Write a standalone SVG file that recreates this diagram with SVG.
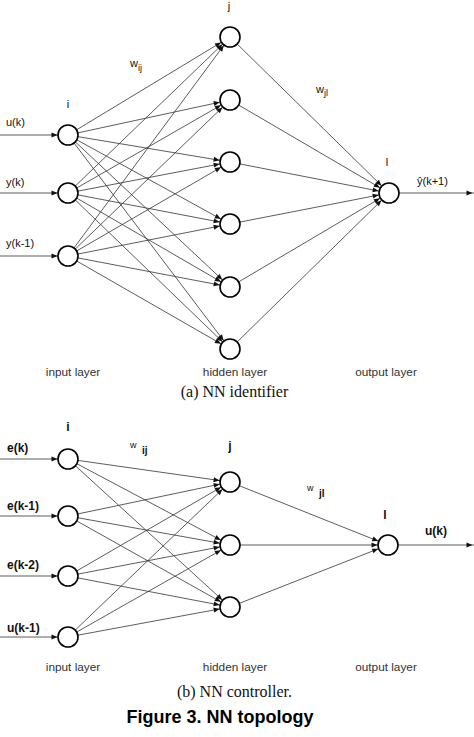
<svg xmlns="http://www.w3.org/2000/svg" width="474" height="737" viewBox="0 0 474 737">
<style>
.c{fill:#fff;stroke:#000;stroke-width:1.6}
.e{stroke:#333;stroke-width:0.8;fill:none;marker-end:url(#ah)}
.t{font-family:"Liberation Sans",Arial,sans-serif;font-size:11px;fill:#111}
.b{font-family:"Liberation Sans",Arial,sans-serif;font-size:12px;font-weight:bold;fill:#111}
.s{font-family:"Liberation Sans",Arial,sans-serif;font-size:9px;fill:#111}
.sb{font-family:"Liberation Sans",Arial,sans-serif;font-size:10px;font-weight:bold;fill:#111}
.l{font-family:"Liberation Sans",Arial,sans-serif;font-size:11.8px;fill:#333}
.cap{font-family:"Liberation Serif","Times New Roman",serif;font-size:16px;fill:#111;text-anchor:middle}
.fig{font-family:"Liberation Sans",Arial,sans-serif;font-size:18px;font-weight:bold;fill:#000;text-anchor:middle}
</style>
<defs>
<marker id="ah" markerUnits="userSpaceOnUse" markerWidth="20" markerHeight="10" viewBox="0 0 20 10" refX="20" refY="5" orient="auto">
<path d="M3.5,2.5 L9.5,5 L3.5,7.5 z" fill="#111"/>
</marker>
</defs>
<g id="connectors">
<line class="e" x1="0" y1="135" x2="68" y2="135"/>
<line class="e" x1="0" y1="193" x2="68" y2="193"/>
<line class="e" x1="0" y1="256" x2="68" y2="256"/>
<line class="e" x1="68" y1="135" x2="230" y2="37"/>
<line class="e" x1="68" y1="135" x2="230" y2="100"/>
<line class="e" x1="68" y1="135" x2="230" y2="162"/>
<line class="e" x1="68" y1="135" x2="230" y2="224"/>
<line class="e" x1="68" y1="135" x2="230" y2="287"/>
<line class="e" x1="68" y1="135" x2="230" y2="349"/>
<line class="e" x1="68" y1="193" x2="230" y2="37"/>
<line class="e" x1="68" y1="193" x2="230" y2="100"/>
<line class="e" x1="68" y1="193" x2="230" y2="162"/>
<line class="e" x1="68" y1="193" x2="230" y2="224"/>
<line class="e" x1="68" y1="193" x2="230" y2="287"/>
<line class="e" x1="68" y1="193" x2="230" y2="349"/>
<line class="e" x1="68" y1="256" x2="230" y2="37"/>
<line class="e" x1="68" y1="256" x2="230" y2="100"/>
<line class="e" x1="68" y1="256" x2="230" y2="162"/>
<line class="e" x1="68" y1="256" x2="230" y2="224"/>
<line class="e" x1="68" y1="256" x2="230" y2="287"/>
<line class="e" x1="68" y1="256" x2="230" y2="349"/>
<line class="e" x1="230" y1="37" x2="389" y2="193"/>
<line class="e" x1="230" y1="100" x2="389" y2="193"/>
<line class="e" x1="230" y1="162" x2="389" y2="193"/>
<line class="e" x1="230" y1="224" x2="389" y2="193"/>
<line class="e" x1="230" y1="287" x2="389" y2="193"/>
<line class="e" x1="230" y1="349" x2="389" y2="193"/>
<line class="e" x1="389" y1="193" x2="483" y2="193"/>
<line class="e" x1="0" y1="459" x2="68" y2="459"/>
<line class="e" x1="0" y1="516" x2="68" y2="516"/>
<line class="e" x1="0" y1="576" x2="68" y2="576"/>
<line class="e" x1="0" y1="637" x2="68" y2="637"/>
<line class="e" x1="68" y1="459" x2="230" y2="482"/>
<line class="e" x1="68" y1="459" x2="230" y2="545"/>
<line class="e" x1="68" y1="459" x2="230" y2="607"/>
<line class="e" x1="68" y1="516" x2="230" y2="482"/>
<line class="e" x1="68" y1="516" x2="230" y2="545"/>
<line class="e" x1="68" y1="516" x2="230" y2="607"/>
<line class="e" x1="68" y1="576" x2="230" y2="482"/>
<line class="e" x1="68" y1="576" x2="230" y2="545"/>
<line class="e" x1="68" y1="576" x2="230" y2="607"/>
<line class="e" x1="68" y1="637" x2="230" y2="482"/>
<line class="e" x1="68" y1="637" x2="230" y2="545"/>
<line class="e" x1="68" y1="637" x2="230" y2="607"/>
<line class="e" x1="230" y1="482" x2="388" y2="545"/>
<line class="e" x1="230" y1="545" x2="388" y2="545"/>
<line class="e" x1="230" y1="607" x2="388" y2="545"/>
<line class="e" x1="388" y1="545" x2="483" y2="545"/>
</g>
<g id="identifier-input-layer">
<circle class="c" cx="68" cy="135" r="10"/>
<circle class="c" cx="68" cy="193" r="10"/>
<circle class="c" cx="68" cy="256" r="10"/>
</g>
<g id="identifier-hidden-layer">
<circle class="c" cx="230" cy="37" r="10"/>
<circle class="c" cx="230" cy="100" r="10"/>
<circle class="c" cx="230" cy="162" r="10"/>
<circle class="c" cx="230" cy="224" r="10"/>
<circle class="c" cx="230" cy="287" r="10"/>
<circle class="c" cx="230" cy="349" r="10"/>
</g>
<g id="identifier-output-layer">
<circle class="c" cx="389" cy="193" r="10"/>
</g>
<g id="identifier-labels">
<text class="t" x="229" y="10" text-anchor="middle">j</text>
<text class="t" x="130" y="67">w<tspan class="s" dy="4">ij</tspan></text>
<text class="t" x="68" y="108" text-anchor="middle">i</text>
<text class="t" x="6" y="126">u(k)</text>
<text class="t" x="6" y="186">y(k)</text>
<text class="t" x="6" y="247">y(k-1)</text>
<text class="t" x="316" y="93">w<tspan class="s" dy="3">jl</tspan></text>
<text class="t" x="387" y="166" text-anchor="middle">l</text>
<text class="t" x="417" y="185">ŷ(k+1)</text>
<text class="l" x="73" y="376" text-anchor="middle">input layer</text>
<text class="l" x="235" y="376" text-anchor="middle">hidden layer</text>
<text class="l" x="386" y="376" text-anchor="middle">output layer</text>
<text class="cap" x="234.5" y="397">(a) NN identifier</text>
</g>
<g id="controller-input-layer">
<circle class="c" cx="68" cy="459" r="10"/>
<circle class="c" cx="68" cy="516" r="10"/>
<circle class="c" cx="68" cy="576" r="10"/>
<circle class="c" cx="68" cy="637" r="10"/>
</g>
<g id="controller-hidden-layer">
<circle class="c" cx="230" cy="482" r="10"/>
<circle class="c" cx="230" cy="545" r="10"/>
<circle class="c" cx="230" cy="607" r="10"/>
</g>
<g id="controller-output-layer">
<circle class="c" cx="388" cy="545" r="10"/>
</g>
<g id="controller-labels">
<text class="b" x="68" y="431" text-anchor="middle">i</text>
<text class="s" x="130" y="448">w</text>
<text class="sb" x="142" y="454">ij</text>
<text class="b" x="230" y="450" text-anchor="middle">j</text>
<text class="b" x="7" y="452">e(k)</text>
<text class="b" x="7" y="510">e(k-1)</text>
<text class="b" x="7" y="569">e(k-2)</text>
<text class="b" x="7" y="632">u(k-1)</text>
<text class="s" x="307" y="491">w</text>
<text class="sb" x="319" y="497">jl</text>
<text class="b" x="385" y="519" text-anchor="middle">l</text>
<text class="b" x="425" y="535">u(k)</text>
<text class="l" x="73" y="671" text-anchor="middle">input layer</text>
<text class="l" x="235" y="671" text-anchor="middle">hidden layer</text>
<text class="l" x="386" y="671" text-anchor="middle">output layer</text>
<text class="cap" x="234.5" y="697">(b) NN controller.</text>
</g>
<text class="fig" x="220" y="723">Figure 3. NN topology</text>
</svg>
